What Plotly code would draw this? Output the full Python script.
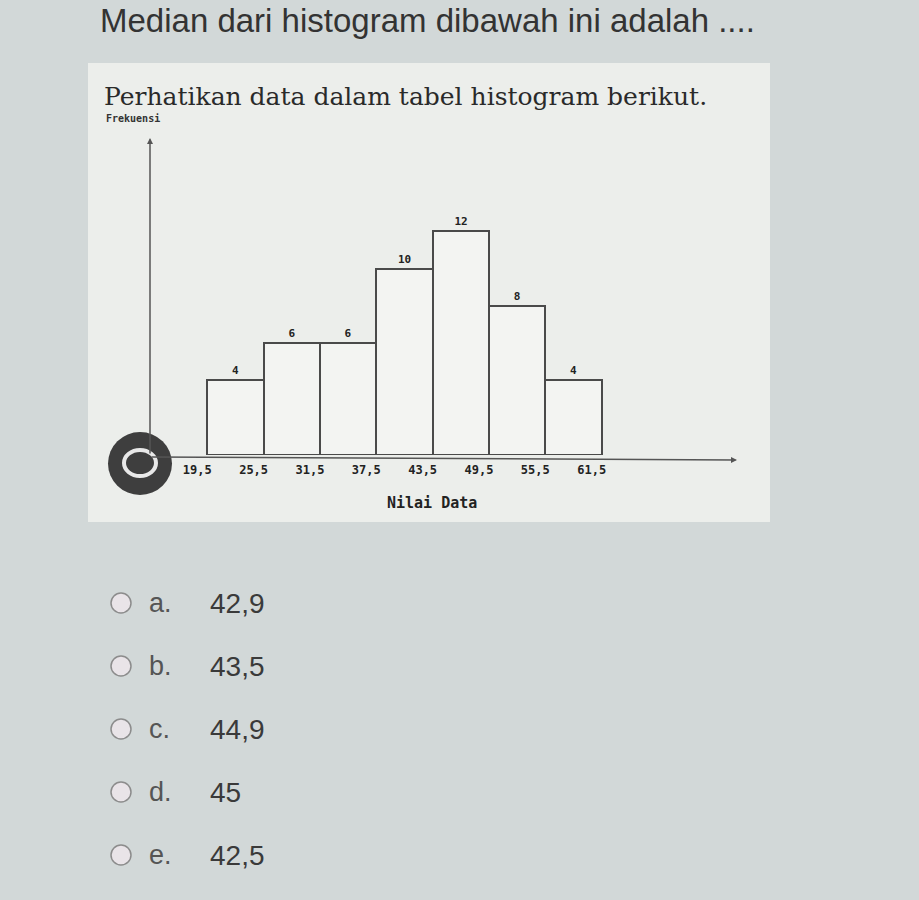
import plotly.graph_objects as go

# histogram data (class boundaries and frequencies)
batas_kelas = [19.5, 25.5, 31.5, 37.5, 43.5, 49.5, 55.5, 61.5]
frekuensi = [4, 6, 6, 10, 12, 8, 4]
tick_labels = ["19,5", "25,5", "31,5", "37,5", "43,5", "49,5", "55,5", "61,5"]

# answer options
pilihan_huruf = ["a.", "b.", "c.", "d.", "e."]
pilihan_nilai = ["42,9", "43,5", "44,9", "45", "42,5"]

W, H = 919, 900
BG = "#d2d8d8"
PANEL = "#eceeeb"


def px(x):
    return x / W


def py(y):
    return 1 - y / H


def teks(s, x, y, size, family, color, anchor="left"):
    return dict(text=s, x=px(x), y=py(y), xref="paper", yref="paper",
                xanchor=anchor, yanchor="middle", showarrow=False,
                font=dict(family=family, size=size, color=color))


mid = [(a + b) / 2 for a, b in zip(batas_kelas[:-1], batas_kelas[1:])]
lebar = [b - a for a, b in zip(batas_kelas[:-1], batas_kelas[1:])]

fig = go.Figure()
fig.add_trace(go.Bar(
    x=mid, y=frekuensi, width=lebar,
    marker=dict(color="#f3f4f2", line=dict(color="#4a4a4a", width=2)),
    text=["<b>%d</b>" % v for v in frekuensi], textposition="outside",
    textfont=dict(family="DejaVu Sans Mono", size=11, color="#222"),
    cliponaxis=False, showlegend=False, hoverinfo="skip",
))

shapes = [
    # white panel behind the question picture
    dict(type="rect", xref="paper", yref="paper", x0=px(88), x1=px(770),
         y0=py(522), y1=py(63), fillcolor=PANEL, line=dict(width=0), layer="below"),
    # dark round icon
    dict(type="circle", xref="paper", yref="paper", x0=px(108), x1=px(172),
         y0=py(495), y1=py(432), fillcolor="#3e3e3e", line=dict(width=0)),
    dict(type="circle", xref="paper", yref="paper", x0=px(124), x1=px(156),
         y0=py(476), y1=py(450), fillcolor="rgba(0,0,0,0)",
         line=dict(color="#e8e8e8", width=4)),
]
for i in range(len(pilihan_huruf)):
    cy = 603 + i * 63
    shapes.append(dict(type="circle", xref="paper", yref="paper",
                       x0=px(111), x1=px(131), y0=py(cy + 10), y1=py(cy - 10),
                       fillcolor="#e9e4e8", line=dict(color="#8c8c8c", width=1.5)))

annotations = [
    teks("Median dari histogram dibawah ini adalah ....", 98, 21, 33,
         "Liberation Sans", "#333"),
    teks("Perhatikan data dalam tabel histogram berikut.", 102, 97, 25,
         "DejaVu Serif", "#2a2a2a"),
    teks("<b>Frekuensi</b>", 104, 118, 10, "DejaVu Sans Mono", "#333"),
    teks("<b>Nilai Data</b>", 432, 503, 15, "DejaVu Sans Mono", "#222", "center"),
    # axis arrows
    dict(x=px(150), y=py(138), ax=0, ay=317, xref="paper", yref="paper",
         axref="pixel", ayref="pixel", text="", showarrow=True, arrowhead=2,
         arrowsize=0.8, arrowwidth=1.5, arrowcolor="#555"),
    dict(x=px(737), y=py(460), ax=-587, ay=-3, xref="paper", yref="paper",
         axref="pixel", ayref="pixel", text="", showarrow=True, arrowhead=2,
         arrowsize=0.8, arrowwidth=1.5, arrowcolor="#555"),
]
for i, (huruf, nilai) in enumerate(zip(pilihan_huruf, pilihan_nilai)):
    cy = 603 + i * 63
    annotations.append(teks(huruf, 147, cy, 27, "Liberation Sans", "#555"))
    annotations.append(teks(nilai, 208, cy, 28, "Liberation Sans", "#3a3a3a"))

fig.update_layout(
    width=W, height=H,
    margin=dict(l=0, r=0, t=0, b=0),
    paper_bgcolor=BG, plot_bgcolor="rgba(0,0,0,0)",
    bargap=0,
    xaxis=dict(domain=[px(150), px(735)], range=[13.4, 75.7],
               tickvals=batas_kelas, ticktext=["<b>%s</b>" % t for t in tick_labels],
               ticks="", ticklabelstandoff=6, ticklabelshift=-10,
               showgrid=False, zeroline=False, showline=False,
               tickfont=dict(family="DejaVu Sans Mono", size=12, color="#222")),
    yaxis=dict(domain=[py(455), py(140)], range=[0, 16.9],
               showticklabels=False, showgrid=False, zeroline=False, showline=False),
    shapes=shapes,
    annotations=annotations,
)

fig.write_html("out.html", config={"displayModeBar": False},
               post_script="document.body.style.margin='0';"
                           "document.body.style.background='" + BG + "';")
